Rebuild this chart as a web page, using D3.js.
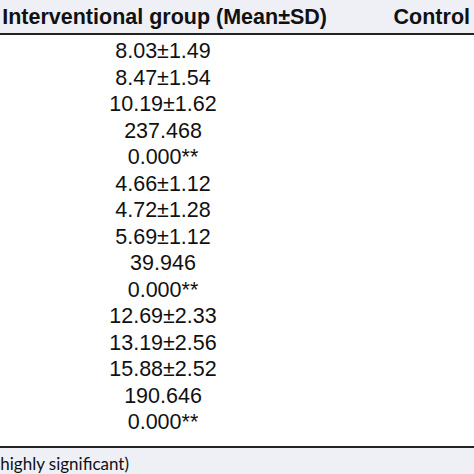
<!DOCTYPE html>
<html lang="en">
<head>
    <meta charset="UTF-8">
    <script src="https://d3js.org/d3.v7.min.js"></script>
    <style>
        body { margin: 0; background: #fff; }
    </style>
</head>
<body>
    <div id="table"></div>
    <script>
        // Table content
        const headers = ["Interventional group (Mean\u00B1SD)", "Control"];
        const values = ["8.03\u00B11.49", "8.47\u00B11.54", "10.19\u00B11.62", "237.468", "0.000**",
                        "4.66\u00B11.12", "4.72\u00B11.28", "5.69\u00B11.12", "39.946", "0.000**",
                        "12.69\u00B12.33", "13.19\u00B12.56", "15.88\u00B12.52", "190.646", "0.000**"];
        const footnote = "(**highly significant)";

        const width = 474, height = 474;
        const svg = d3.select("#table").append("svg")
            .attr("width", width).attr("height", height);

        const y = d3.scaleLinear().domain([0, values.length - 1]).range([50, 421]);

        svg.append("rect").attr("x", 0).attr("y", 0).attr("width", width).attr("height", 33).attr("fill", "#eef0f6");
        svg.append("rect").attr("x", 0).attr("y", 448).attr("width", width).attr("height", 26).attr("fill", "#eef0f6");
        svg.append("line").attr("x1", 0).attr("x2", width).attr("y1", 34).attr("y2", 34)
            .attr("stroke", "#222").attr("stroke-width", 2);
        svg.append("line").attr("x1", 0).attr("x2", width).attr("y1", 447).attr("y2", 447)
            .attr("stroke", "#222").attr("stroke-width", 2);

        svg.append("text").attr("x", 327).attr("y", 24).attr("text-anchor", "end")
            .attr("font-family", "Liberation Sans, Arial, sans-serif").attr("font-weight", "bold")
            .attr("font-size", 21.5).attr("fill", "#111").text(headers[0]);
        svg.append("text").attr("x", 470).attr("y", 24).attr("text-anchor", "end")
            .attr("font-family", "Liberation Sans, Arial, sans-serif").attr("font-weight", "bold")
            .attr("font-size", 21.5).attr("fill", "#111").text(headers[1]);

        svg.selectAll("text.val").data(values).enter().append("text")
            .attr("class", "val")
            .attr("x", 163).attr("y", (d, i) => y(i) + 8)
            .attr("text-anchor", "middle")
            .attr("font-family", "Liberation Sans, Arial, sans-serif")
            .attr("font-size", 21.5).attr("fill", "#111")
            .text(d => d);

        svg.append("text").attr("x", 129).attr("y", 470).attr("text-anchor", "end")
            .attr("font-family", "Lato, sans-serif").attr("font-size", 17).attr("fill", "#111")
            .text(footnote);
    </script>
</body>
</html>
